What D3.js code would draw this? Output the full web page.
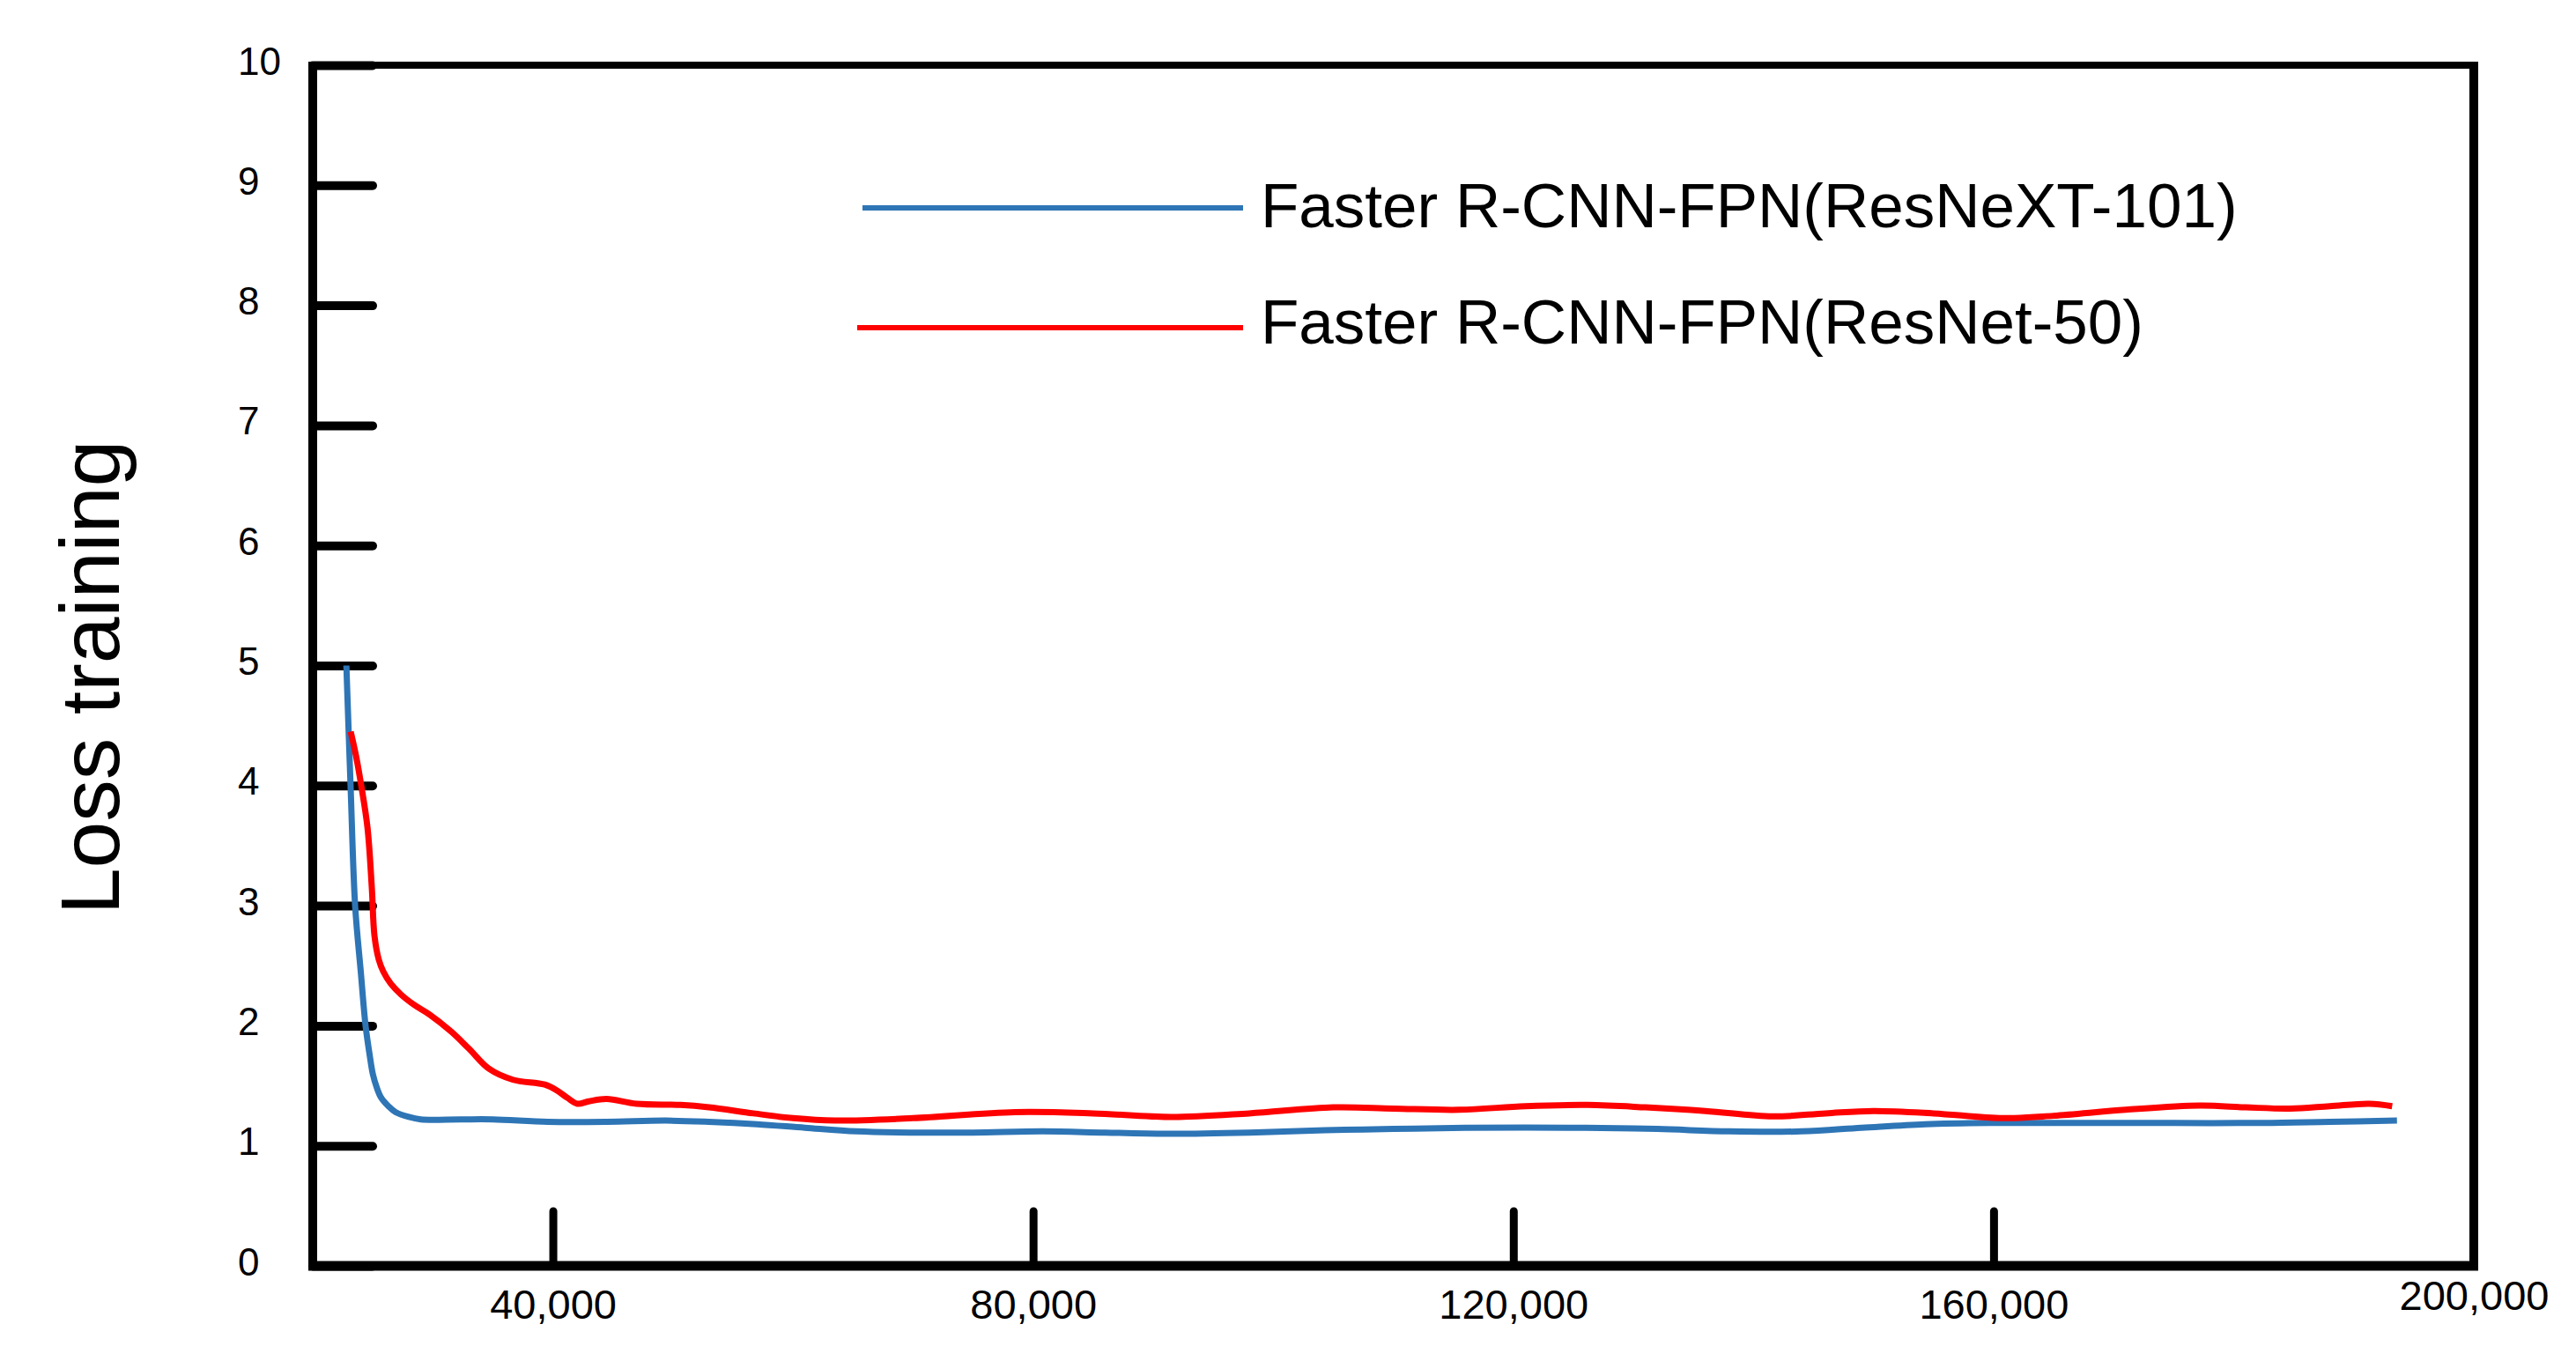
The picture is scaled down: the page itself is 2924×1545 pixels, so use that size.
<!DOCTYPE html>
<html>
<head>
<meta charset="utf-8">
<script src="https://d3js.org/d3.v7.min.js"></script>
<style>
  body { margin: 0; background: #fff; }
  svg { font-family: "Liberation Sans", Arial, sans-serif; display: block; }
</style>
</head>
<body>
<svg id="chart" width="2924" height="1545"></svg>
<script>
// ---- data ----
const yTicks = [0, 1, 2, 3, 4, 5, 6, 7, 8, 9, 10];
const xTicks = [40000, 80000, 120000, 160000, 200000];
const seriesNames = ["Faster R-CNN-FPN(ResNeXT-101)", "Faster R-CNN-FPN(ResNet-50)"];
const seriesColors = ["#2E75B6", "#FF0000"];

const nextX = [22800, 23150, 23530, 24000, 24400, 24750, 25000, 25350, 25700, 26300, 26900, 28000, 29000,
  32300, 35000, 39600, 44500, 49400, 53000, 57000, 61000, 65300, 70000, 75000, 80800, 86000, 91500,
  98000, 104300, 110000, 116000, 126000, 132000, 138000, 144000, 149000, 154300, 160000, 168300,
  175000, 182400, 188000, 193600];
const nextY = [5.0, 4.0, 3.0, 2.45, 2.0, 1.75, 1.6, 1.48, 1.4, 1.33, 1.28, 1.24, 1.22,
  1.22, 1.22, 1.2, 1.2, 1.21, 1.2, 1.18, 1.15, 1.12, 1.11, 1.11, 1.12, 1.11, 1.1,
  1.11, 1.13, 1.14, 1.15, 1.15, 1.14, 1.12, 1.12, 1.15, 1.18, 1.19, 1.19,
  1.19, 1.19, 1.2, 1.21];

const resX = [23160, 23600, 24040, 24560, 24920, 25140, 25500, 25880, 26500, 27350, 28500, 29770, 31540,
  33000, 34700, 36680, 39320, 40350, 41200, 42040, 43000, 44470, 46960, 50640, 53000, 56700, 60000,
  63500, 70000, 78500, 85000, 91500, 98000, 105000, 110000, 115500, 121000, 126200, 131000, 136000,
  141600, 146000, 150000, 155000, 160800, 165000, 171000, 177200, 181000, 184700, 188000, 191300, 193200];
const resY = [4.45, 4.25, 4.0, 3.65, 3.15, 2.75, 2.55, 2.45, 2.35, 2.26, 2.17, 2.09, 1.95,
  1.81, 1.64, 1.55, 1.51, 1.46, 1.40, 1.35, 1.37, 1.39, 1.35, 1.34, 1.32, 1.27, 1.23,
  1.21, 1.23, 1.28, 1.27, 1.24, 1.27, 1.32, 1.31, 1.30, 1.33, 1.34, 1.32, 1.29,
  1.245, 1.27, 1.29, 1.27, 1.23, 1.25, 1.30, 1.335, 1.32, 1.31, 1.33, 1.35, 1.33];

const svg = d3.select("#chart");
const plotLeft = 355, plotRight = 2808, plotTop = 74, plotBottom = 1437;

const x = d3.scaleLinear().domain([20000, 200000]).range([plotLeft, plotRight]);
const y = d3.scaleLinear().domain([0, 10]).range([plotBottom, plotTop]);

// y axis: ticks pointing inward, labels left aligned
const yAxis = svg.append("g")
  .attr("transform", "translate(" + plotLeft + ",0)")
  .call(d3.axisLeft(y).tickValues(yTicks).tickSize(-68).tickFormat(d3.format("d")));
yAxis.select(".domain").remove();
yAxis.selectAll(".tick line")
  .attr("stroke", "#000").attr("stroke-width", 10).attr("stroke-linecap", "round");
yAxis.selectAll(".tick text")
  .attr("text-anchor", "start").attr("x", -85).attr("dy", 10)
  .style("font-size", "44px").attr("fill", "#000");

// x axis: ticks pointing up
const xAxis = svg.append("g")
  .attr("transform", "translate(0," + plotBottom + ")")
  .call(d3.axisBottom(x).tickValues(xTicks).tickSize(-62).tickPadding(27).tickFormat(d3.format(",")));
xAxis.select(".domain").remove();
xAxis.selectAll(".tick line")
  .attr("stroke", "#000").attr("stroke-width", 9).attr("stroke-linecap", "round")
  .filter(d => d === 200000).remove();
xAxis.selectAll(".tick text")
  .style("font-size", "47px").attr("fill", "#000")
  .filter(d => d === 200000).attr("y", 17);

// frame
svg.append("line").attr("x1", plotLeft).attr("x2", plotLeft).attr("y1", plotTop - 4).attr("y2", plotBottom + 5)
  .attr("stroke", "#000").attr("stroke-width", 10);
svg.append("line").attr("x1", plotLeft - 5).attr("x2", plotRight + 5).attr("y1", plotBottom).attr("y2", plotBottom)
  .attr("stroke", "#000").attr("stroke-width", 11);
svg.append("line").attr("x1", plotLeft - 5).attr("x2", plotRight + 5).attr("y1", plotTop).attr("y2", plotTop)
  .attr("stroke", "#000").attr("stroke-width", 8);
svg.append("line").attr("x1", plotRight).attr("x2", plotRight).attr("y1", plotTop).attr("y2", plotBottom)
  .attr("stroke", "#000").attr("stroke-width", 10);

// y title
svg.append("text")
  .attr("transform", "translate(135,769) rotate(-90)")
  .attr("text-anchor", "middle")
  .style("font-size", "95px")
  .text("Loss training");

// series
const line = d3.line()
  .x(d => x(d[0]))
  .y(d => y(d[1]))
  .curve(d3.curveCatmullRom.alpha(0.5));

const series = [d3.zip(nextX, nextY), d3.zip(resX, resY)];
svg.selectAll(".series")
  .data(series)
  .enter().append("path")
  .attr("class", "series")
  .attr("d", line)
  .attr("fill", "none")
  .attr("stroke", (d, i) => seriesColors[i])
  .attr("stroke-width", 7)
  .attr("stroke-linejoin", "round");

// legend
const legendRows = [{ lineY: 236, textY: 258, x1: 979 }, { lineY: 372, textY: 390, x1: 973 }];
const legend = svg.selectAll(".legend")
  .data(seriesNames)
  .enter().append("g").attr("class", "legend");
legend.append("line")
  .attr("x1", (d, i) => legendRows[i].x1).attr("x2", 1411)
  .attr("y1", (d, i) => legendRows[i].lineY).attr("y2", (d, i) => legendRows[i].lineY)
  .attr("stroke", (d, i) => seriesColors[i]).attr("stroke-width", 6);
legend.append("text")
  .attr("x", 1431).attr("y", (d, i) => legendRows[i].textY)
  .style("font-size", "71px")
  .text(d => d);
</script>
</body>
</html>
